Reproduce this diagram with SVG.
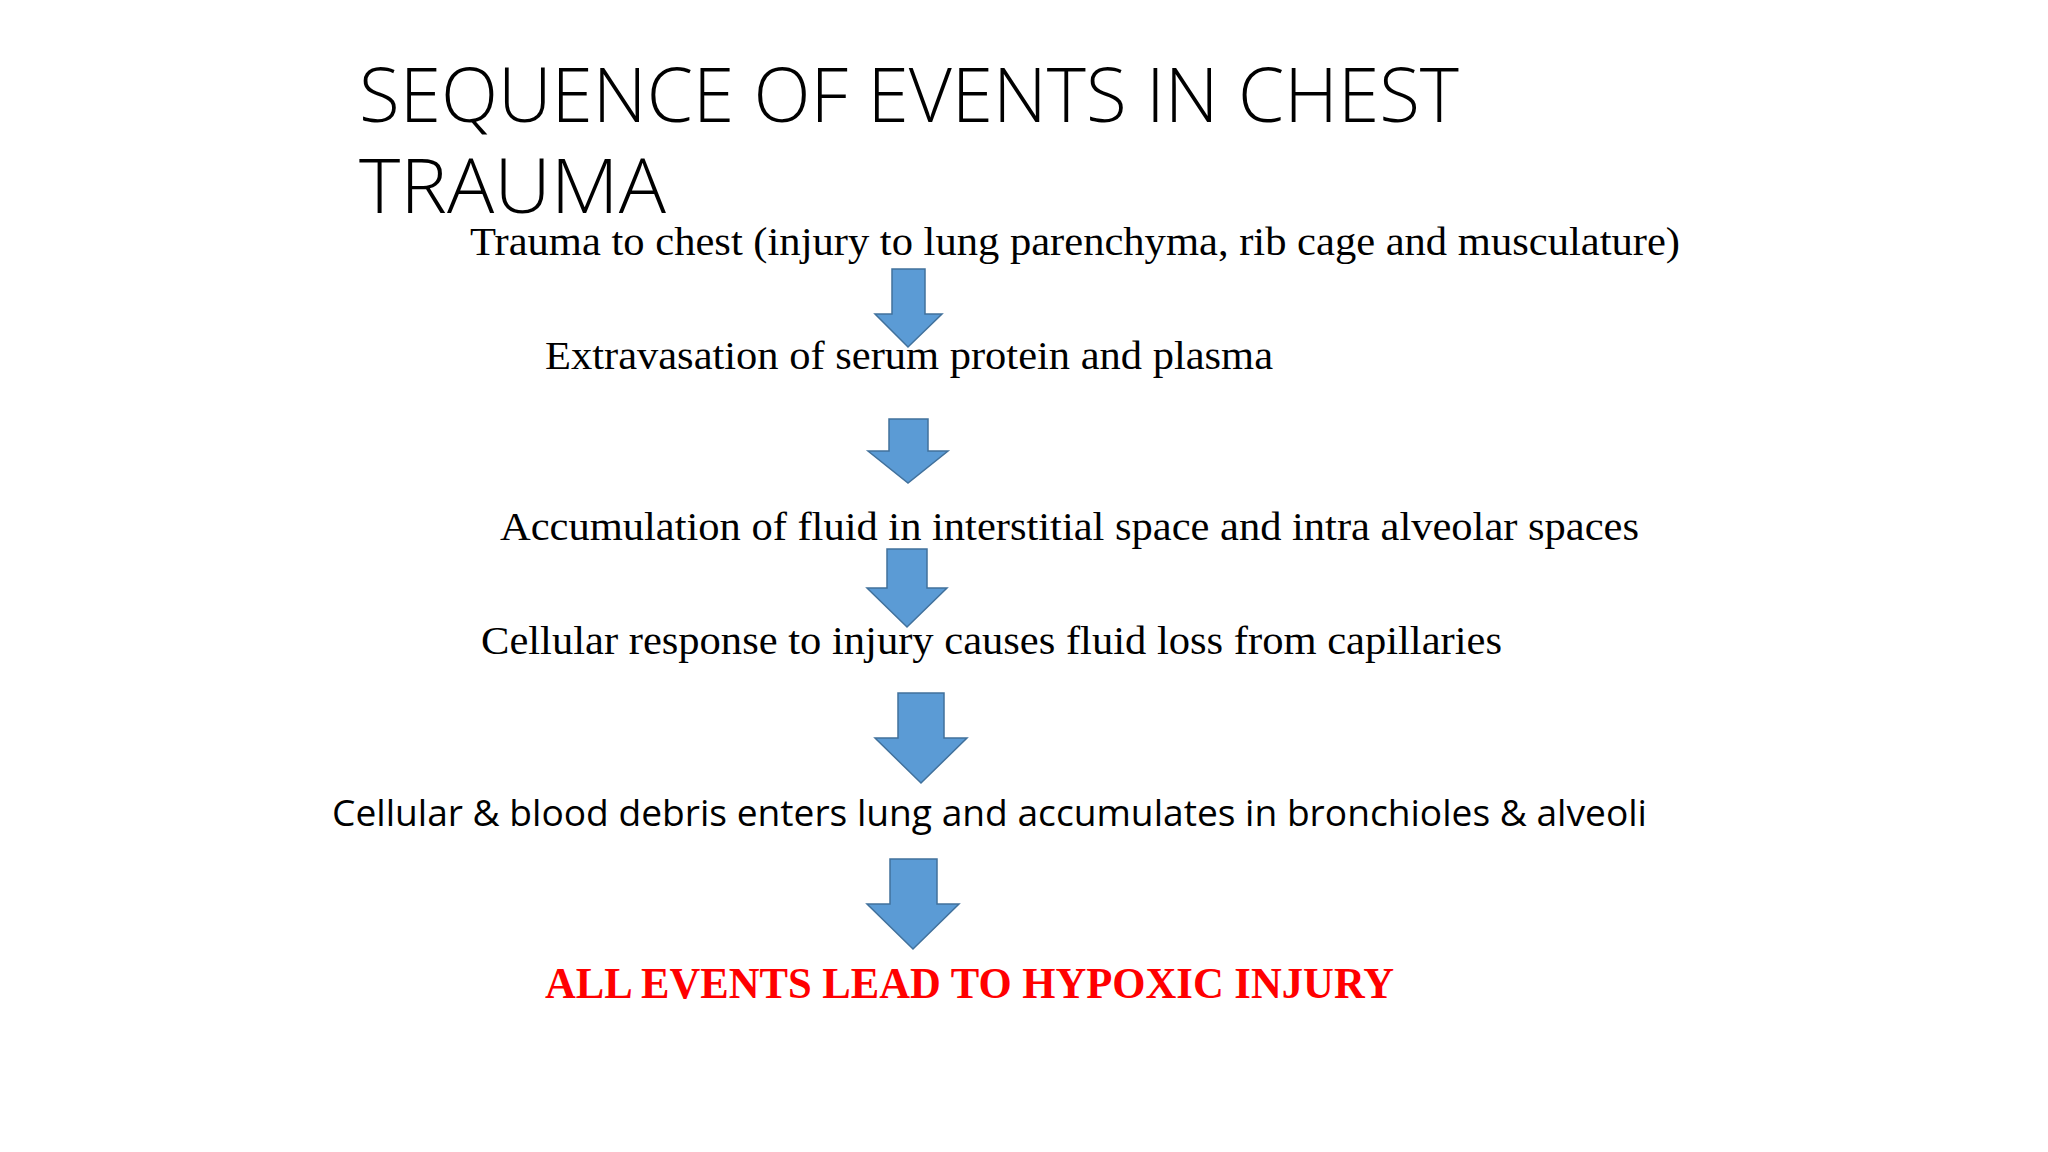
<svg xmlns="http://www.w3.org/2000/svg" width="2048" height="1152" viewBox="0 0 2048 1152">
<style>
.title{font-family:"Open Sans","Liberation Sans",sans-serif;font-weight:300;font-size:76px;fill:#000}
.serif{font-family:"Liberation Serif","Times New Roman",serif;font-size:41px;fill:#000}
.sans{font-family:"Open Sans","Liberation Sans",sans-serif;font-size:37px;fill:#000}
.red{font-family:"Liberation Serif","Times New Roman",serif;font-weight:bold;font-size:44px;fill:#FF0000}
.arrow{fill:#5B9BD5;stroke:#41719C;stroke-width:1.5}
</style>
<rect width="2048" height="1152" fill="#FFFFFF"/>
<g id="title">
<text class="title" x="359" y="122" textLength="1100" lengthAdjust="spacingAndGlyphs">SEQUENCE OF EVENTS IN CHEST</text>
<text class="title" x="359" y="213" textLength="307" lengthAdjust="spacingAndGlyphs">TRAUMA</text>
</g>
<g id="node1"><text class="serif" x="470" y="255" textLength="1210" lengthAdjust="spacingAndGlyphs">Trauma to chest (injury to lung parenchyma, rib cage and musculature)</text></g>
<g id="node2"><text class="serif" x="545" y="369" textLength="728" lengthAdjust="spacingAndGlyphs">Extravasation of serum protein and plasma</text></g>
<g id="node3"><text class="serif" x="500" y="540" textLength="1139" lengthAdjust="spacingAndGlyphs">Accumulation of fluid in interstitial space and intra alveolar spaces</text></g>
<g id="node4"><text class="serif" x="481" y="654" textLength="1021" lengthAdjust="spacingAndGlyphs">Cellular response to injury causes fluid loss from capillaries</text></g>
<g id="node5"><text class="sans" x="332" y="826" textLength="1315" lengthAdjust="spacingAndGlyphs">Cellular &amp; blood debris enters lung and accumulates in bronchioles &amp; alveoli</text></g>
<g id="node6"><text class="red" x="545" y="998" textLength="849" lengthAdjust="spacingAndGlyphs">ALL EVENTS LEAD TO HYPOXIC INJURY</text></g>
<g id="connectors">
<polygon class="arrow" points="892,269 925,269 925,314 942,314 908,347 875,314 892,314"/>
<polygon class="arrow" points="889,419 928,419 928,451 948,451 908,483 868,451 889,451"/>
<polygon class="arrow" points="887,549 927,549 927,588 947,588 907,627 867,588 887,588"/>
<polygon class="arrow" points="898,693 944,693 944,738 967,738 921,783 875,738 898,738"/>
<polygon class="arrow" points="890,859 937,859 937,904 959,904 913,949 867,904 890,904"/>
</g>
</svg>
